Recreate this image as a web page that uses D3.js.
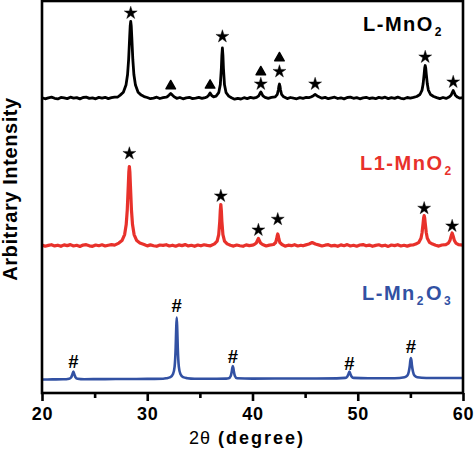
<!DOCTYPE html>
<html><head><meta charset="utf-8">
<script src="https://cdn.jsdelivr.net/npm/d3@7"></script>
<style>body{margin:0;background:#fff}</style>
</head><body>
<svg id="chart" width="474" height="451"></svg>
<script>
// ---------- data ----------
const seriesKeys = ["L-MnO2", "L1-MnO2", "L-Mn2O3"];
const seriesColors = ["#000000", "#e8312b", "#3251a3"];
const seriesOffsets = [295, 147.5, 13.5];   // vertical stacking offsets (intensity units)

// [2theta, relative intensity]
const patternLMnO2 = [
[20.0,0.3],[20.3,-0.8],[20.6,0.2],[20.9,0.9],[21.2,-0.3],[21.5,-0.9],[21.8,0.6],[22.1,0.1],[22.4,-0.6],[22.7,0.8],
[23.0,-0.2],[23.3,0.4],[23.6,-0.9],[23.9,0.5],[24.2,0.9],[24.5,-0.4],[24.8,0.1],[25.1,-0.8],[25.4,0.6],[25.7,-0.1],
[26.0,0.7],[26.3,-0.6],[26.6,0.3],[26.9,0.9],[27.2,1.0],[27.43,2.9],[27.73,5.8],[27.98,12.9],[28.13,23.5],[28.23,38.3],
[28.33,61.2],[28.38,72],[28.43,76.5],[28.48,72],[28.53,61.2],[28.63,38.3],[28.73,23.5],[28.88,12.9],[29.13,5.8],[29.43,2.9],
[29.7,1.4],[30.0,0.5],[30.3,-0.7],[30.6,-0.1],[30.9,0.8],[31.2,-0.5],[31.5,0.3],[31.8,0.9],[31.93,1.4],[32.08,2.9],
[32.23,4.5],[32.38,2.9],[32.53,1.4],[32.8,-0.3],[33.1,0.5],[33.4,-0.8],[33.7,0.2],[34.0,0.7],[34.3,-0.6],[34.6,-0.1],
[34.9,0.6],[35.2,-0.4],[35.5,0.4],[35.67,1.0],[35.82,2.5],[35.97,5],[36.12,2.5],[36.3,1.2],[36.54,1.9],[36.79,5.3],
[36.94,13.2],[37.04,29.5],[37.09,42.7],[37.14,50],[37.19,42.7],[37.24,29.5],[37.34,13.2],[37.49,5.3],[37.74,1.9],[38.0,0.2],
[38.3,-1.2],[38.6,-0.4],[38.9,-1.0],[39.2,0.3],[39.5,-0.6],[39.8,0.6],[40.1,-0.2],[40.39,0.7],[40.59,2.2],[40.69,4.2],
[40.79,6],[40.89,4.2],[40.99,2.2],[41.19,0.7],[41.5,-0.3],[41.8,0.6],[42.16,1.2],[42.36,3.7],[42.46,8.3],[42.51,12],
[42.56,14],[42.61,12],[42.66,8.3],[42.76,3.7],[42.96,1.2],[43.3,-0.6],[43.6,0.5],[43.9,-0.2],[44.2,-0.8],[44.5,0.4],
[44.8,-0.3],[45.1,0.6],[45.35,0.3],[45.55,1],[45.75,2.1],[45.95,3.5],[46.15,2.1],[46.35,1],[46.6,-0.2],[46.9,0.6],
[47.2,-0.7],[47.5,0.1],[47.8,0.8],[48.1,-0.5],[48.4,0.2],[48.7,-0.9],[49.0,0.5],[49.3,0.9],[49.6,-0.3],[49.9,0.4],
[50.2,-0.8],[50.5,0.2],[50.8,0.7],[51.1,-0.5],[51.4,0.1],[51.7,-0.7],[52.0,0.6],[52.3,-0.2],[52.6,0.8],[52.9,-0.6],
[53.2,0.3],[53.5,-0.4],[53.8,0.9],[54.1,-0.3],[54.4,-0.8],[54.7,0.5],[55.0,-0.1],[55.3,0.6],[55.61,1.5],[55.91,3.5],
[56.11,7.9],[56.21,13.9],[56.31,24.2],[56.36,29.9],[56.41,32.5],[56.46,29.9],[56.51,24.2],[56.61,13.9],[56.71,7.9],[56.91,3.5],
[57.21,1.5],[57.5,0.4],[57.8,-0.6],[58.1,0.5],[58.4,-0.4],[58.67,0.9],[58.87,2.7],[58.97,5.2],[59.07,7.5],[59.17,5.2],
[59.27,2.7],[59.47,0.9],[59.7,-0.2],[60.0,0.4]
];

const patternL1MnO2 = [
[20.0,0.5],[20.3,-0.7],[20.6,0.1],[20.9,0.8],[21.2,-0.4],[21.5,0.3],[21.8,-0.8],[22.1,0.6],[22.4,-0.1],[22.7,0.9],
[23.0,-0.5],[23.3,0.2],[23.6,-0.9],[23.9,0.4],[24.2,0.8],[24.5,-0.3],[24.8,-0.8],[25.1,0.5],[25.4,-0.2],[25.7,0.7],
[26.0,-0.5],[26.3,0.3],[26.6,0.9],[26.9,0.4],[27.3,2.4],[27.6,4.9],[27.85,10.9],[28.0,20.9],[28.1,35.3],[28.2,60.3],
[28.25,73.3],[28.3,79],[28.35,73.3],[28.4,60.3],[28.5,35.3],[28.6,20.9],[28.75,10.9],[29.0,4.9],[29.3,2.4],[29.7,1.0],
[30.0,-0.4],[30.3,0.6],[30.6,-0.2],[30.9,-0.8],[31.2,0.5],[31.5,0.1],[31.8,0.8],[32.1,-0.5],[32.4,0.3],[32.7,-0.7],
[33.0,0.6],[33.3,-0.1],[33.6,0.9],[33.9,-0.4],[34.2,0.2],[34.5,-0.8],[34.8,0.5],[35.1,-0.3],[35.4,0.7],[35.7,0.1],
[36.0,-0.3],[36.39,1.6],[36.64,4.3],[36.79,10.8],[36.89,24.2],[36.94,34.9],[36.99,41],[37.04,34.9],[37.09,24.2],[37.19,10.8],
[37.34,4.3],[37.59,1.6],[37.9,0.2],[38.2,-0.6],[38.5,0.5],[38.8,-0.2],[39.1,-0.8],[39.4,0.6],[39.7,-0.1],[40.0,0.3],
[40.16,0.9],[40.36,2.5],[40.46,4.8],[40.56,7],[40.66,4.8],[40.76,2.5],[40.96,0.9],[41.3,-0.5],[41.6,0.4],[42.0,1],
[42.2,3],[42.3,6.8],[42.35,9.8],[42.4,11.5],[42.45,9.8],[42.5,6.8],[42.6,3],[42.8,1],[43.1,-0.6],[43.4,0.3],
[43.7,-0.2],[44.0,0.8],[44.3,-0.5],[44.6,0.2],[44.8,-0.3],[45.07,0.6],[45.37,1.5],[45.67,3],[45.97,1.5],[46.27,0.6],
[46.6,-0.5],[46.9,0.3],[47.2,0.8],[47.5,-0.4],[47.8,0.1],[48.1,-0.8],[48.4,0.6],[48.7,-0.2],[49.0,0.9],[49.3,-0.5],
[49.6,0.2],[49.9,-0.7],[50.2,0.5],[50.5,0.9],[50.8,-0.3],[51.1,0.4],[51.4,-0.8],[51.7,0.1],[52.0,0.7],[52.3,-0.4],
[52.6,0.3],[52.9,-0.9],[53.2,0.5],[53.5,-0.1],[53.8,0.8],[54.1,-0.5],[54.4,0.2],[54.7,-0.6],[55.0,0.4],[55.25,0.5],
[55.51,1.4],[55.81,3.2],[56.01,7.3],[56.11,12.8],[56.21,22.3],[56.26,27.6],[56.31,30],[56.36,27.6],[56.41,22.3],[56.51,12.8],
[56.61,7.3],[56.81,3.2],[57.11,1.4],[57.4,0.2],[57.7,-0.6],[58.0,0.5],[58.37,0.9],[58.62,2.4],[58.77,5.3],[58.87,9.3],
[58.97,12.5],[59.07,9.3],[59.17,5.3],[59.32,2.4],[59.57,0.9],[60.0,0.3]
];

const patternLMn2O3 = [
[20.0,0],[21.0,0.1],[22.0,0.2],[22.58,0.8],[22.78,2.3],[22.88,4.9],[22.98,8],[23.08,4.9],[23.18,2.3],[23.38,0.8],
[24.0,0.3],[26.0,0.4],[28.0,0.5],[30.0,0.6],[31.5,0.8],[31.8,1.2],[32.2,2.3],[32.45,5.4],[32.6,12.9],[32.7,31.6],
[32.75,50.2],[32.8,62],[32.85,50.2],[32.9,31.6],[33.0,12.9],[33.15,5.4],[33.4,2.3],[33.8,1.3],[34.5,0.8],[36.0,0.8],
[37.5,0.9],[37.73,1.2],[37.93,3.6],[38.03,8],[38.08,11.5],[38.13,13.5],[38.18,11.5],[38.23,8],[38.33,3.6],[38.53,1.2],
[40.0,0.9],[44.0,1.0],[48.0,1.1],[48.81,1.6],[49.01,3.1],[49.11,5.2],[49.21,8],[49.31,5.2],[49.41,3.1],[49.61,1.6],
[51.0,1.2],[53.5,1.3],[54.45,2.3],[54.7,3.8],[54.85,7.8],[54.95,14],[55.0,19],[55.05,21.5],[55.1,19],[55.15,14],
[55.25,7.8],[55.4,3.8],[55.65,2.3],[56.5,1.5],[58.0,1.5],[60.0,1.5]
];

// phase markers: [2theta, symbol, level (absolute intensity units)]
const markersLMnO2 = [
[28.43,"star",380],[32.23,"tri",307],[35.97,"tri",307.7],[37.14,"star",356.5],
[40.79,"tri",321],[40.79,"star",309],[42.56,"tri",335],[42.56,"star",321.5],
[45.95,"star",309],[56.41,"star",336],[59.07,"star",311]
];
const markersL1MnO2 = [
[28.30,"star",239.5],[36.99,"star",197],[40.56,"star",163],[42.40,"star",173.7],
[56.31,"star",184.7],[58.97,"star",167]
];
const markersLMn2O3 = [
[22.98,"hash",32],[32.80,"hash",88],[38.13,"hash",36.3],[49.21,"hash",30],[55.05,"hash",46.3]
];

const xMajorTicks = [20, 30, 40, 50, 60];
const xMinorTicks = [25, 35, 45, 55];
const xTitle = ["2θ", " (degree)"];
const yTitle = "Arbitrary Intensity";
// label parts: [text, isSubscript]
const labelParts = [
  [["L-MnO", false], ["2", true]],
  [["L1-MnO", false], ["2", true]],
  [["L-Mn", false], ["2", true], ["O", false], ["3", true]]
];

// ---------- drawing ----------
const svg = d3.select("#chart");
const FONT = "'Liberation Sans', Arial, Helvetica, sans-serif";
const pLeft = 42, pRight = 463, pTop = 1, pBottom = 393;

const x = d3.scaleLinear().domain([20, 60]).range([pLeft, pRight]);
const y = d3.scaleLinear().domain([0, 392]).range([pBottom, pTop]);

const patterns = [patternLMnO2, patternL1MnO2, patternLMn2O3];
const markerSets = [markersLMnO2, markersL1MnO2, markersLMn2O3];
const lineWidths = [2.8, 3.2, 2.6];
const curves = [d3.curveLinear, d3.curveLinear, d3.curveMonotoneX];

const defs = svg.append("defs");
defs.append("clipPath").attr("id", "plotclip")
  .append("rect").attr("x", pLeft).attr("y", pTop).attr("width", pRight - pLeft).attr("height", pBottom - pTop);

const plot = svg.append("g").attr("clip-path", "url(#plotclip)");

patterns.forEach((pat, i) => {
  const line = d3.line()
    .x(d => x(d[0]))
    .y(d => y(d[1] + seriesOffsets[i]))
    .curve(curves[i]);
  plot.append("path")
    .datum(pat)
    .attr("d", line)
    .attr("fill", "none")
    .attr("stroke", seriesColors[i])
    .attr("stroke-width", lineWidths[i])
    .attr("stroke-linejoin", "round");
});

// markers
const starPath = d3.symbol().type(d3.symbolStar).size(52)();
const triPath = d3.symbol().type(d3.symbolTriangle).size(40)();
markerSets.forEach(set => {
  set.forEach(m => {
    const cx = x(m[0]), cy = y(m[2]);
    if (m[1] === "hash") {
      svg.append("text").attr("x", cx).attr("y", cy).attr("dy", "0.36em")
        .attr("text-anchor", "middle").attr("font-family", FONT)
        .attr("font-weight", "bold").attr("font-size", 18.5).attr("fill", "#000")
        .text("#");
    } else {
      svg.append("path").attr("d", m[1] === "star" ? starPath : triPath)
        .attr("transform", `translate(${cx},${cy})`).attr("fill", "#000")
        .attr("stroke", "#000").attr("stroke-width", m[1] === "tri" ? 1.4 : 0.4)
        .attr("stroke-linejoin", "round");
    }
  });
});

// series labels
const labelPos = [[363, 31], [360, 170], [362, 300]];
labelParts.forEach((parts, i) => {
  const t = svg.append("text").attr("x", labelPos[i][0]).attr("y", labelPos[i][1])
    .attr("font-family", FONT).attr("font-weight", "bold").attr("font-size", 20)
    .attr("letter-spacing", 1.5).attr("fill", seriesColors[i]);
  let shifted = false;
  parts.forEach(p => {
    const ts = t.append("tspan").text(p[0]);
    if (p[1]) { ts.attr("font-size", 12).attr("dy", 5).attr("dx", 1); shifted = true; }
    else if (shifted) { ts.attr("dy", -5).attr("dx", 1); shifted = false; }
  });
});

// frame
svg.append("rect").attr("x", pLeft).attr("y", pTop).attr("width", pRight - pLeft).attr("height", pBottom - pTop)
  .attr("fill", "none").attr("stroke", "#000").attr("stroke-width", 2.6);

// x axis
const axMajor = svg.append("g").attr("transform", `translate(0,${pBottom})`)
  .call(d3.axisBottom(x).tickValues(xMajorTicks).tickSize(8).tickPadding(6).tickFormat(d3.format("d")));
const axMinor = svg.append("g").attr("transform", `translate(0,${pBottom})`)
  .call(d3.axisBottom(x).tickValues(xMinorTicks).tickSize(5).tickFormat(""));
[axMajor, axMinor].forEach(ax => {
  ax.select(".domain").remove();
  ax.selectAll(".tick line").attr("stroke", "#000").attr("stroke-width", 2.6);
  ax.selectAll(".tick text").attr("font-family", FONT).attr("font-weight", "bold")
    .attr("font-size", 18).attr("letter-spacing", 0.8).attr("fill", "#000");
});

// axis titles
const xt = svg.append("text").attr("x", 247).attr("y", 444).attr("text-anchor", "middle")
  .attr("font-family", FONT).attr("font-size", 18).attr("fill", "#000");
xt.append("tspan").attr("font-weight", "normal").attr("letter-spacing", 1).text(xTitle[0]);
xt.append("tspan").attr("font-weight", "bold").attr("letter-spacing", 2).text(xTitle[1]);

svg.append("text").attr("transform", "translate(17,189) rotate(-90)")
  .attr("text-anchor", "middle").attr("font-family", FONT).attr("font-weight", "bold")
  .attr("font-size", 20).attr("letter-spacing", 0.6).attr("fill", "#000").text(yTitle);
</script>
</body></html>
